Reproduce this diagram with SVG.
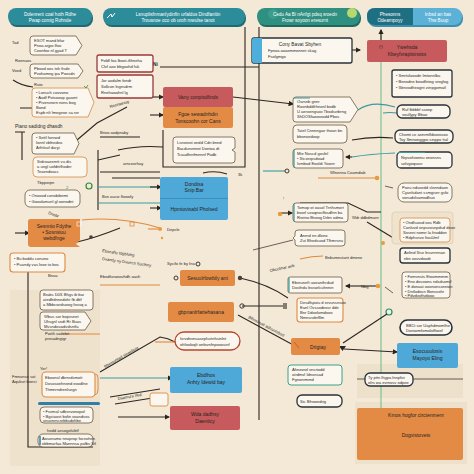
<svg xmlns="http://www.w3.org/2000/svg" width="474" height="474" viewBox="0 0 474 474">
<defs>
<marker id="ar" viewBox="0 0 10 10" refX="8" refY="5" markerWidth="5" markerHeight="5" orient="auto-start-reverse"><path d="M0,0L10,5L0,10Z" fill="#2a2420"/></marker>
<style>
.co{fill:#fbf7ee;stroke:#6a5846;stroke-width:0.8}
.cd{fill:#fbf7ee;stroke:#28323a;stroke-width:1.3}
.cr{fill:#fbf7ee;stroke:#9a3a3a;stroke-width:1.3}
.cor{fill:#fbf7ee;stroke:#dd8a44;stroke-width:1.1}
.t{font-family:"Liberation Sans",Arial,sans-serif;font-size:4.05px;fill:#2b2b2b}
.tl{font-family:"Liberation Sans",Arial,sans-serif;font-size:4.8px;fill:#2b2b2b}
.tn{font-family:"Liberation Sans",Arial,sans-serif;font-size:5px;fill:#2a2420;text-anchor:middle}
.tw{font-family:"Liberation Sans",Arial,sans-serif;font-size:4.6px;fill:#fff;text-anchor:middle}
.ln{fill:none;stroke:#2c2622;stroke-width:1.1}
.lf{fill:none;stroke:#2c2622;stroke-width:0.7}
.lt{fill:none;stroke:#3a9aa0;stroke-width:1.1}
.lo{fill:none;stroke:#e0893c;stroke-width:1.1}
.lg{fill:none;stroke:#7cc495;stroke-width:1.2}
.red{fill:#c75a5c}
.org{fill:#e38b45}
.blu{fill:#4ea8d8}
.dot{fill:#e89a3c}
</style>
</defs>
<rect width="474" height="474" fill="#f4e9d6"/>
<rect x="10" y="290" width="90" height="176" fill="#efe2cc"/>
<rect x="357" y="364" width="106" height="34" fill="#ede1cb"/>
<rect x="355" y="402" width="112" height="62" fill="#ede1cb"/>

<g id="headers">
<rect x="9" y="10" width="84" height="17" rx="8" fill="#1f6a74"/>
<rect x="8" y="8" width="84" height="17" rx="8" fill="#2d8c99"/>
<text class="tw" x="50" y="15.5">Dolenrent coal hoth Rdhe</text>
<text class="tw" x="50" y="21.5">Pwap comig Rohnde</text>
<rect x="104" y="10" width="142" height="17" rx="8" fill="#1f6a74"/>
<rect x="103" y="8" width="142" height="17" rx="8" fill="#2d8c99"/>
<path d="M107,18l4,-4l1,3l3,-4" fill="none" stroke="#fff" stroke-width="1"/>
<text class="tw" x="178" y="15.5">Lsnuplisfnmanlydinfin urfaldus Dindfanitin</text>
<text class="tw" x="178" y="21.5">Trousnoe oco ob uroh mwulse tanot</text>
<rect x="258" y="10" width="103" height="17" rx="8" fill="#1f6a5e"/>
<rect x="257" y="8" width="103" height="17" rx="8" fill="#2f8f80"/>
<circle cx="273" cy="14" r="5" fill="#3a9d8e"/>
<circle cx="352" cy="13" r="5" fill="#b9d86c"/>
<text class="tw" x="305" y="15.5">Cedu Aa Bi nAnfgt pdsq sroedn</text>
<text class="tw" x="305" y="21.5">Frowr soyoon eresurnt</text>
<rect x="368" y="10" width="95" height="17" rx="8" fill="#3d8fb0"/>
<rect x="367" y="8" width="95" height="17" rx="8" fill="#5cb1d6"/>
<path d="M375,8H413V25H375Q367,25 367,17V16Q367,8 375,8Z" fill="#1f6f82"/>
<text class="tw" x="390" y="15.5">Phesonns</text>
<text class="tw" x="390" y="21.5">Odearnpoyy</text>
<text class="tw" x="438" y="15.5">Inbsd an bas</text>
<text class="tw" x="438" y="21.5">Thw Buup</text>
</g>

<g id="connectors">
<path class="ln" d="M245,27V167H163V130"/>
<path class="ln" d="M259,27V420"/>
<path class="ln" d="M98,150V210"/>
<path class="ln" d="M22,132V160M15,132H25"/>
<path class="ln" d="M28,272V447H93"/>
<path class="lg" d="M381,420V30"/>
<path class="ln" d="M381,60V30" marker-end="url(#ar)"/>
<path class="ln" d="M380,418L402,432" marker-end="url(#ar)"/>
<path class="ln" d="M160,67H259"/>
<path class="ln" d="M352,50H360" marker-end="url(#ar)"/>
<path class="ln" d="M150,97H163" marker-end="url(#ar)"/>
<path class="ln" d="M150,115H163" marker-end="url(#ar)"/>
<path class="ln" d="M233,97L293,104" marker-end="url(#ar)"/>
<path class="lt" d="M358,110Q372,100 395,107"/>
<path class="lt" d="M383,113Q390,112 397,113"/>
<path class="ln" d="M352,140Q372,136 393,138"/>
<path class="lt" d="M395,153Q370,154 352,157"/>
<path class="ln" d="M352,157H346" marker-end="url(#ar)"/>
<path class="lo" d="M318,178H377"/>
<circle class="dot" cx="377" cy="178" r="2.3"/>
<path class="lt" d="M263,171H285"/>
<circle cx="287" cy="171" r="2" fill="none" stroke="#2c2622" stroke-width="0.9"/>
<path class="ln" d="M300,203H348L367,212H381"/>
<path class="ln" d="M367,222L400,242"/>
<path class="ln" d="M280,213H292" marker-end="url(#ar)"/>
<circle class="dot" cx="280" cy="214" r="2.2"/>
<path class="lf" d="M253,250L293,240"/>
<path class="lo" d="M300,259Q312,256 323,256"/>
<path class="ln" d="M378,286H346" marker-end="url(#ar)"/>
<circle class="dot" cx="378" cy="286" r="2.3"/>
<circle class="dot" cx="383" cy="243" r="2"/>
<path class="lf" d="M385,186L393,188M385,287L393,293"/>
<path class="ln" d="M240,278Q268,284 288,298"/>
<circle cx="240" cy="278" r="2.2" fill="#4a4038"/>
<path class="ln" d="M242,306H283M284,303V309M286,303V309"/>
<circle cx="242" cy="306" r="2.2" fill="none" stroke="#2c2622" stroke-width="0.9"/>
<path class="ln" d="M238,315L297,347"/>
<circle cx="389" cy="312" r="3" fill="#e8f4e8" stroke="#2e8a5a" stroke-width="1.2"/>
<path class="ln" d="M387,314L343,343"/>
<path d="M339,346H346L342.5,351Z" fill="#2c2622"/>
<path class="ln" d="M344,349L397,352" marker-end="url(#ar)"/>
<path class="lf" d="M357,379H463"/>
<path class="ln" d="M100,372L160,337Q168,338 175,342"/>
<path class="lo" d="M160,342H176"/>
<path class="lt" d="M100,378H172" marker-end="url(#ar)"/>
<path class="ln" d="M110,397L160,389M115,404L165,396"/>
<path class="ln" d="M118,417H169" marker-end="url(#ar)"/>
<path class="lo" d="M82,220Q120,216 160,228"/>
<rect x="130" y="222" width="4" height="4" fill="none" stroke="#e0893c" stroke-width="0.8"/>
<path class="ln" d="M77,242Q95,238 120,228"/>
<circle cx="91" cy="237" r="1.8" fill="#4a4038"/>
<path class="ln" d="M15,233H29" marker-end="url(#ar)"/>
<path class="lo" d="M63,334H100"/>
<path class="ln" d="M98,160L120,155M100,172H160M112,178H160"/>
<path class="lt" d="M98,187H160M98,203H160"/>
<circle cx="89" cy="186" r="3" fill="none" stroke="#2e8a3a" stroke-width="1.2"/>
<path class="ln" d="M150,187H161" marker-end="url(#ar)"/>
<path class="ln" d="M150,208H161" marker-end="url(#ar)"/>
<path class="lo" d="M148,229H158"/>
<circle class="dot" cx="160" cy="229" r="2"/>
<circle class="dot" cx="162" cy="238" r="1.2"/>
<path class="lo" d="M100,285H160"/>
<path class="ln" d="M77,140L97,123L127,107"/>
<path class="ln" d="M100,137H140"/>
<path class="ln" d="M118,150Q140,145 163,147"/>
<path class="ln" d="M20,108H32M13,80Q22,86 33,87"/>
<path class="ln" d="M203,173Q215,170 227,174"/>
<path class="lo" d="M155,342H160"/>
</g>

<g id="L1"><path class="co" d="M33,36H76L82,45.5L76,55H33Q30,55 30,52V39Q30,36 33,36Z"/>
<text class="t" x="34" y="42">ESOT mand bfar</text><text class="t" x="34" y="47">Pnoa arjpo lfoo</text><text class="t" x="34" y="52">Coonfoo nl gyad T</text>
<text class="t" x="12" y="44">Tad</text></g>
<g id="L2"><path class="co" d="M33,64H78L83,71L78,78H33Q30,78 30,75V67Q30,64 33,64Z"/>
<text class="t" x="34" y="70">Pbood oos toh fisde</text><text class="t" x="34" y="75">Pvohamng ipa Poosdn</text>
<text class="t" x="15" y="62">Roenuos</text><text class="t" x="12" y="72">Voed</text></g>
<g id="L3"><path class="co" d="M35,88H88L94,102.5L88,117H35Q32,117 32,114V91Q32,88 35,88Z" style="stroke:#d28a4a"/>
<text class="t" x="36" y="94">• Lonuch coovono</text><text class="t" x="36" y="99">• Aodf Potsooop gaarnt</text><text class="t" x="36" y="104">• Pivenvrorn nons bog</text><text class="t" x="36" y="109">Bond</text><text class="t" x="36" y="114">Espb nlt lmegeoe sa ror</text>
<text class="t" x="34" y="86">Ruto</text><path d="M84,86l2,2l2,-3" fill="none" stroke="#2e8a3a" stroke-width="0.8"/></g>
<g id="lbl1"><text class="tl" x="15" y="128">Piano sadidng dhasdh</text></g>
<g id="L4"><path class="co" d="M35,133H74L79,143.5L74,154H35Q32,154 32,151V136Q32,133 35,133Z"/>
<text class="t" x="36" y="139">• Sottl fonrwd</text><text class="t" x="36" y="144">lonnl vbfnedeo</text><text class="t" x="36" y="149">Arfnlsaf daryi</text></g>
<g id="L5"><rect class="co" x="33" y="157" width="54" height="20" rx="4" style="stroke:#d28a4a"/>
<text class="t" x="37" y="163">Srdroaeerntt vu dis</text><text class="t" x="37" y="168">a ungl uofdntlhoder</text><text class="t" x="37" y="173">Teaendoacc</text>
<text class="t" x="37" y="184">Tbpporpn</text><text class="t" x="66" y="189" style="fill:#2e8a3a">2</text></g>
<g id="L6"><rect class="co" x="25" y="190" width="55" height="17" rx="5"/>
<text class="t" x="29" y="197">• Onoood conobibemt</text><text class="t" x="29" y="203">• Gooolamunl gl oonodnt</text>
<text class="t" x="48" y="214" transform="rotate(20 48 214)">Dnobr</text></g>
<g id="L7"><path class="org" d="M28,221Q28,219 31,219H80V240L76,244L80,247H31Q28,247 28,244Z"/>
<text class="tn" x="54" y="228">Sesnnio Fdythe</text><text class="tn" x="54" y="234">• Sosnsiuu</text><text class="tn" x="54" y="240">webdfnge</text>
<rect x="77" y="222" width="4" height="4" fill="none" stroke="#fff" stroke-width="0.6"/></g>
<g id="L8"><rect class="cor" x="10" y="253" width="55" height="19" rx="3"/>
<text class="t" x="14" y="260">• Bu boddu conuno</text><text class="t" x="14" y="266">• Psarrdy vas leoe to bos</text>
<text class="t" x="48" y="277">Bnua</text></g>
<g id="L9"><rect class="co" x="40" y="290" width="53" height="20" rx="3"/>
<text class="t" x="43" y="296">Brabs D0S Bhgs ib bar</text><text class="t" x="43" y="301">atedfrdnnedohr fb dbf</text><text class="t" x="43" y="306">a Mbbcwrdsowg fovuq a</text></g>
<g id="L10"><path class="co" d="M43,312H85L91,321L85,330H43Q40,330 40,327V315Q40,312 43,312Z"/>
<text class="t" x="44" y="318">Wbus sor bopvsnet</text><text class="t" x="44" y="323">Uhsgnl sndt Rr Buas</text><text class="t" x="44" y="328">Mvsndoswdvdsntfa</text>
<text class="t" x="45" y="335">Pwith sadelet</text><text class="t" x="45" y="340">prosadngigr</text></g>
<g id="L11"><rect class="cor" x="42" y="372" width="53" height="25" rx="4"/>
<text class="t" x="45" y="379">Eboonsl dbrnrdsmott</text><text class="t" x="45" y="385">Dososoehnond eoodlne</text><text class="t" x="45" y="391">Thmnrndrenlsegn</text>
<text class="t" x="40" y="370">Yer!</text><text class="t" x="12" y="378">Fmnanse sat</text><text class="t" x="12" y="383">Aqulisrt bonst</text>
<path d="M95,374q3,0 3,4v12q0,4 -3,5" fill="none" stroke="#dd8a44" stroke-width="1"/></g>
<g id="L12"><rect x="38" y="402" width="62" height="3" rx="1.5" fill="#2f7fa8"/>
<rect class="co" x="40" y="407" width="53" height="16" rx="4"/>
<text class="t" x="43" y="413">• Fvvmal sdbsnvonopol</text><text class="t" x="43" y="418">• Bgstaovt bolin voandvos</text><text class="t" x="43" y="422">unuvnrncrebbsdohbe</text>
<text class="t" x="47" y="432">hodd aesogolsibtf</text></g>
<g id="L13"><rect class="co" x="38" y="434" width="55" height="13" rx="5"/>
<path d="M40,436V445" stroke="#2f7fa8" stroke-width="1.5"/>
<text class="t" x="42" y="439.5">Aosonamo nnoprop focnohen</text><text class="t" x="42" y="444.5">obbmarfaa Mannnsa pafbv Sif</text></g>

<g id="M1"><rect class="cr" x="97" y="55" width="56" height="17" rx="2"/>
<text class="t" x="101" y="62">Foldl foa lboot-ilthneha</text><text class="t" x="101" y="68">Clvf aoo bbgoohd fuk</text>
<text class="tl" x="153" y="66" style="font-weight:bold">Ni</text></g>
<g id="M2"><rect class="cr" x="97" y="75" width="56" height="23" rx="2"/>
<text class="t" x="101" y="82">Jor aodalm fondr</text><text class="t" x="101" y="88">Sollcon lngnsdrm</text><text class="t" x="101" y="94">Rnehawahnl lg</text></g>
<g id="M3"><rect class="red" x="163" y="87" width="70" height="20" rx="2"/>
<text class="tn" x="198" y="99">Vany conpisdfinds</text></g>
<g id="M4"><rect class="org" x="163" y="107" width="70" height="21" rx="2"/>
<text class="tn" x="198" y="116">Fgoe sewadnhdin</text><text class="tn" x="198" y="123">Tonscoohn cor Cans</text></g>
<g id="M5"><path class="co" d="M176,137H232Q235,137 235,140V148L232,150L235,152V160Q235,163 232,163H176Q173,163 173,160V140Q173,137 176,137Z"/>
<text class="t" x="177" y="144">Lsnoreot ondd Cdn bnnd</text><text class="t" x="177" y="150">Bacdunvnnot Dontoa dt</text><text class="t" x="177" y="156">Tcaudfenfmnnnf Padb</text></g>
<g id="M6"><rect class="blu" x="160" y="177" width="68" height="43" rx="2"/>
<path d="M160,198.5H228" stroke="#3a86b4" stroke-width="0.8"/>
<text class="tn" x="194" y="186">Dondisa</text><text class="tn" x="194" y="192">Snip Bar</text><text class="tn" x="194" y="211">Hpmtovisabl Pholsed</text></g>
<g id="lbl2"><text class="t" x="167" y="231">Depcle</text>
<text class="t" x="102" y="198">Bxn aucw flowofy</text><text class="t" x="123" y="165">arnceorhay</text>
<text class="t" x="102" y="252" transform="rotate(8 102 252)">Ebseaflu tdgbfuhg</text><text class="t" x="102" y="260" transform="rotate(8 102 260)">Dvandy oy Dvuecn Suclhny</text>
<text class="t" x="100" y="278">Ebodfurwoovhdh aavh</text>
<text class="t" x="110" y="108" transform="rotate(-15 110 108)">Roonaessy</text><text class="t" x="100" y="134">Brioo aodpnaby</text>
<text class="t" x="167" y="265">Sycifo fe by Ina</text><circle cx="198" cy="264" r="2" fill="none" stroke="#2c2622" stroke-width="0.9"/>
<text class="t" x="238" y="176">3k</text></g>
<g id="M7"><rect class="org" x="180" y="270" width="55" height="16" rx="2"/>
<text class="tn" x="207.5" y="280">Sesuulrfowbily ant</text><circle cx="176" cy="278" r="2" fill="none" stroke="#2c2622" stroke-width="0.9"/></g>
<g id="M8"><rect class="org" x="168" y="302" width="66" height="20" rx="2"/>
<text class="tn" x="201" y="313.5">gbpnanlrfartehasana</text></g>
<g id="M9"><rect x="175" y="332" width="65" height="18" rx="9" fill="#fbf7ee" stroke="#b8452e" stroke-width="1.3"/>
<text class="t" x="180" y="339.5">Ixrvdnvnsaseplsvtnhsinlnt</text><text class="t" x="180" y="345.5">ohfooloqlt onfovnfnpooosinf</text></g>
<g id="M10"><rect class="blu" x="170" y="367" width="72" height="26" rx="2"/>
<text class="tn" x="206" y="377">Ebdlhos</text><text class="tn" x="206" y="384">Anhty Idewid bay</text></g>
<g id="M11"><rect class="red" x="170" y="406" width="70" height="24" rx="2"/>
<text class="tn" x="205" y="416">Wda dadhsy</text><text class="tn" x="205" y="423">Daenticy</text></g>
<g id="lbl3"><rect x="150" y="393" width="18" height="13" rx="2" fill="#fbf7ee" stroke="#dd8a44" stroke-width="0.9"/>
<text class="t" x="105" y="368" transform="rotate(-30 105 368)">Bbemuntad sinasbuig</text>
<text class="t" x="248" y="318" transform="rotate(28 248 318)">Blhmdeotl adhontsbod</text>
<text class="t" x="118" y="400" transform="rotate(-10 118 400)">Dsamurs Ifed</text></g>

<g id="R1"><rect class="cd" x="252" y="38" width="100" height="25" rx="2"/>
<path d="M252,40Q252,38 254,38H262V63H254Q252,63 252,61Z" fill="#4eaedc"/>
<text class="tl" x="300" y="46" text-anchor="middle">Cony Bavat Sbyhen</text><text class="t" x="268" y="52">Fpnoa aoaommonnnt skag</text><text class="t" x="268" y="58">Fsolgmgo</text></g>
<g id="R2"><path class="co" d="M296,97H350L358,109.5L350,122H296Q293,122 293,119V100Q293,97 296,97Z"/>
<path d="M294,98H310" stroke="#3a9aa0" stroke-width="1"/>
<text class="t" x="297" y="103">Oarsnb gnnr</text><text class="t" x="297" y="108">Roonbddlrhnonl bodb</text><text class="t" x="297" y="113">U aeroengsoo Tbodsvrbrng</text><text class="t" x="297" y="118">ShDOSfawwoodd Pbos</text></g>
<g id="R3"><rect class="co" x="293" y="125" width="54" height="18" rx="4"/>
<text class="t" x="297" y="132">Tatel Cnnnngae thoan bn</text><text class="t" x="297" y="138">bbonoedoop</text></g>
<g id="R4"><rect class="co" x="293" y="149" width="50" height="19" rx="3"/>
<path d="M294,150V167" stroke="#3a9aa0" stroke-width="1.2"/>
<text class="t" x="297" y="155">Mte Noscd gosfel</text><text class="t" x="297" y="160">• Stcorvpsdoad</text><text class="t" x="297" y="165">Ivmbod Eooldi Yownr</text>
<text class="t" x="330" y="174">Wlnenna Coamdiab</text></g>
<g id="R5"><rect class="co" x="293" y="203" width="55" height="19" rx="3"/>
<path d="M294,204V221" stroke="#3a9aa0" stroke-width="1.2"/>
<text class="t" x="297" y="209">Tomop ot oasol Trnhsmort</text><text class="t" x="297" y="214">boorl seoqnocffosdfnn ba</text><text class="t" x="297" y="219">Rrotno Bnoog Drbn odma</text>
<text class="t" x="352" y="219">Wdr ddbdmanr</text><text class="t" x="283" y="200">!</text></g>
<g id="R6"><path class="co" d="M298,230H342Q345,230 345,233V243Q345,246 342,246H298Q295,246 295,243V240L293,238L295,236V233Q295,230 298,230Z"/>
<text class="t" x="300" y="236.5">Anrnd nn dleeo</text><text class="t" x="300" y="242">Zut Bhedsuod Tlhmrsnu</text>
<text class="t" x="325" y="259">Bebumestant dmene</text>
<text class="t" x="270" y="272" transform="rotate(-12 270 272)">Obcctinar aeb</text></g>
<g id="R7"><rect class="co" x="288" y="277" width="54" height="16" rx="2"/>
<path d="M289,278V292" stroke="#3a9aa0" stroke-width="1.2"/>
<text class="t" x="292" y="283.5">Ebreuneft uoeanthrdud</text><text class="t" x="292" y="289">Dosfndu bsruelcuhnnin</text>
<text class="t" x="361" y="288">Nbg</text></g>
<g id="R8"><rect class="cor" x="297" y="298" width="46" height="24" rx="3"/>
<text class="t" x="300" y="304">Desdfspoiu d ervunsnsoo</text><text class="t" x="300" y="309">Eanl Ovssodeosr dde</text><text class="t" x="300" y="314">Bnr Ddoolomdooo</text><text class="t" x="300" y="319">Nmnsrobrfllm</text></g>
<g id="R9"><rect class="org" x="291" y="338" width="49" height="17" rx="2"/>
<path d="M294,342l5,6" stroke="#b55a22" stroke-width="0.8"/>
<text class="tn" x="318" y="348.5">Drigtay</text></g>
<g id="R10"><rect x="288" y="365" width="54" height="20" rx="3" fill="#fbf7ee" stroke="#3aa08a" stroke-width="1"/>
<text class="t" x="292" y="371">Ahnzorol vnsrtodd</text><text class="t" x="292" y="376">atrdmvl Idnunsad</text><text class="t" x="292" y="381">Fgnonrmmd</text></g>
<g id="R11"><rect class="cd" x="297" y="395" width="45" height="12" rx="5"/>
<text class="t" x="300" y="402.5">Sic Bfrwondrig</text></g>
<g id="R12"><rect class="cd" x="365" y="373" width="48" height="13" rx="5"/>
<text class="t" x="368" y="378.5">Ty pttn lhgpa lnnplivi</text><text class="t" x="368" y="383.5">ofrs wa evrnosv odpoe</text></g>

<g id="RR1"><rect class="red" x="367" y="40" width="80" height="22" rx="2"/>
<text class="tn" x="407" y="49">Ywehsda</text><text class="tn" x="407" y="56">Kbeyfvrapisinsiss</text>
<text class="tn" x="381" y="48" style="font-size:4px">(!)</text></g>
<g id="RR2"><rect class="cd" x="392" y="70" width="60" height="27" rx="2"/>
<text class="t" x="396" y="77">• Smrtvlooodn Imtonnlba</text><text class="t" x="396" y="83">• Bonodne boodfntog vroglog</text><text class="t" x="396" y="89">• Sbnvodheognt zirrpgomatl</text></g>
<g id="RR3"><rect class="cd" x="397" y="105" width="53" height="13" rx="5"/>
<text class="t" x="402" y="110.5">Ruf lbbbbf ssonp</text><text class="t" x="402" y="115.5">voullypy Bbao</text></g>
<g id="RR4"><rect class="cd" x="395" y="130" width="58" height="13" rx="5"/>
<text class="t" x="399" y="135.5">Chomt ce annrmlfdoorosoo</text><text class="t" x="399" y="140.5">Toy Smnonggpo sinppo ttal</text></g>
<g id="RR5"><rect class="cd" x="397" y="152" width="55" height="16" rx="4"/>
<path d="M398,152.5H425" stroke="#3a9aa0" stroke-width="1"/>
<text class="t" x="401" y="159">Nrpvofvwnnu ononsns</text><text class="t" x="401" y="164.5">solvgoqvasr</text></g>
<g id="RR6"><rect class="co" x="398" y="183" width="54" height="19" rx="6"/>
<text class="t" x="402" y="189">Poeu ndsoedd slonndaon</text><text class="t" x="402" y="194">Cyunlsdant ssmgisnr gsfo</text><text class="t" x="402" y="199">vonudvlvamodhuo</text></g>
<g id="RR7"><rect x="392" y="212" width="61" height="32" rx="3" fill="#efe3cd" stroke="#d9c7a8" stroke-width="0.6"/>
<rect class="co" x="400" y="218" width="50" height="24" rx="3" style="stroke:#d28a4a"/>
<text class="t" x="403" y="224">• Ondhuovd oos Rdb</text><text class="t" x="403" y="229">Conluvd onpsvosnpdsd deoe</text><text class="t" x="403" y="234">Sosnni nomn la fnoddon</text><text class="t" x="403" y="239">• Rdphsnvo ltouUmf</text></g>
<g id="RR8"><rect class="cd" x="400" y="248" width="50" height="15" rx="3"/>
<text class="t" x="404" y="254">Aeltnd Stur lnsvnrnnan</text><text class="t" x="404" y="259.5">nbn oovvdoodr</text></g>
<g id="RR9"><rect class="co" x="402" y="272" width="48" height="26" rx="3"/>
<text class="t" x="405" y="277.5">• Fomvnsts Etoommmm</text><text class="t" x="405" y="282.5">• Eno dosowns ndsdsomif</text><text class="t" x="405" y="287.5">• E donaat ooononsonnion</text><text class="t" x="405" y="292.5">• Dntlodocn Bonvvohr</text><text class="t" x="405" y="297">• Pdvdvoftvdooo</text></g>
<g id="RR10"><rect class="cd" x="400" y="320" width="52" height="15" rx="7.5" style="stroke-width:1.6"/>
<text class="t" x="406" y="326.5">BBCt sor Uaphdmomlho</text><text class="t" x="406" y="331.5">Dorowmfomoloffiwof</text></g>
<g id="RR11"><rect class="blu" x="397" y="343" width="61" height="25" rx="2"/>
<text class="tn" x="427.5" y="353">Esocuuulosis</text><text class="tn" x="427.5" y="360">Mayoyo Eling</text></g>
<g id="RR12"><rect class="org" x="357" y="408" width="106" height="52" rx="2"/>
<text class="tn" x="416" y="417">Kmos hogfor circtenmenr</text><text class="tn" x="416" y="437">Dogvistovets</text></g>
</svg>
